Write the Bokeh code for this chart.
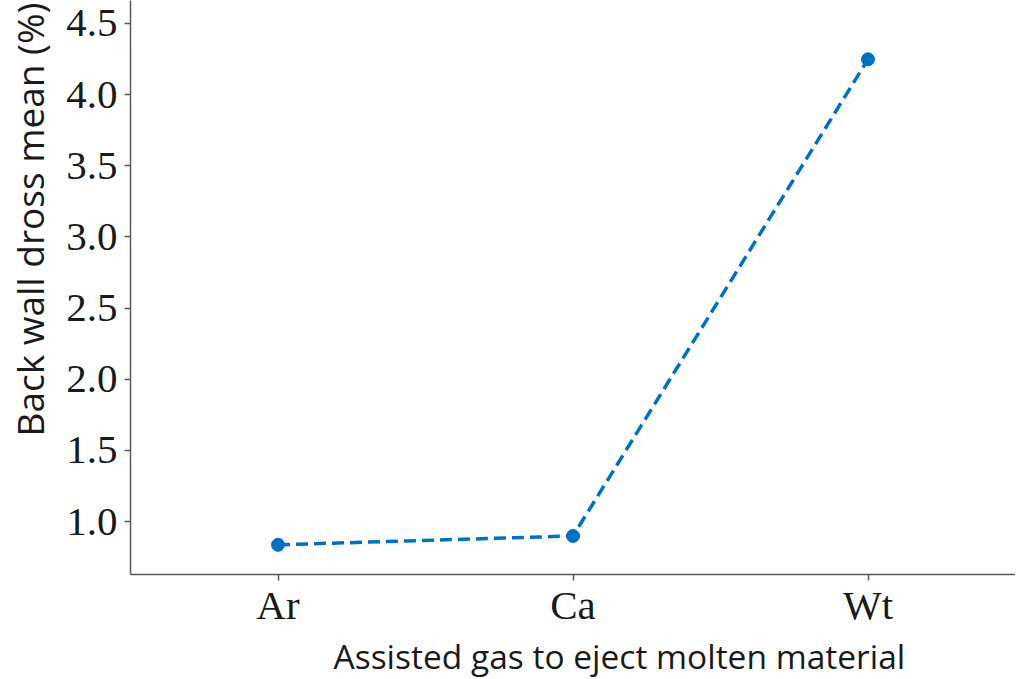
from bokeh.plotting import figure
from bokeh.models import Range1d, FactorRange, SingleIntervalTicker, PrintfTickFormatter, Title
from bokeh.embed import file_html
from bokeh.resources import INLINE

# Data
gases = ["Ar", "Ca", "Wt"]
dross_mean = [0.837, 0.899, 4.248]

x_title = "Assisted gas to eject molten material"
y_title = "Back wall dross mean (%)"

p = figure(
    width=1015, height=678,
    x_range=FactorRange(*gases),
    y_range=Range1d(0.6283, 4.6613),
    output_backend="svg", toolbar_location=None,
    min_border_left=130, min_border_right=0, min_border_top=0, min_border_bottom=103,
)

p.line(gases, dross_mean, line_color="#0070C0", line_width=3.5, line_dash="12 6")
p.scatter(gases, dross_mean, size=13, color="#0070C0")

p.xgrid.visible = False
p.ygrid.visible = False
p.outline_line_color = None

p.yaxis.ticker = SingleIntervalTicker(interval=0.5)
p.yaxis.formatter = PrintfTickFormatter(format="%.1f")
for ax in (p.xaxis[0], p.yaxis[0]):
    ax.axis_line_color = "#595959"
    ax.axis_line_width = 1.5
    ax.major_tick_line_color = "#595959"
    ax.major_tick_line_width = 1.5
    ax.major_tick_out = 6
    ax.major_tick_in = 0
    ax.minor_tick_line_color = None
    ax.major_label_text_font = "Liberation Serif"
    ax.major_label_text_font_size = "41px"
    ax.major_label_text_color = "#1a1a1a"
    ax.axis_label_standoff = 0

p.xaxis.major_label_standoff = 1
p.yaxis.major_label_standoff = 7
# spacer between y tick labels and the y title
p.yaxis.axis_label = " "
p.yaxis.axis_label_text_font_size = "1px"
p.yaxis.axis_label_standoff = 5

p.add_layout(Title(text=x_title, align="left", offset=203, standoff=0,
                   text_font="Open Sans", text_font_size="33.5px",
                   text_font_style="normal", text_color="#1a1a1a"), "below")
p.add_layout(Title(text=y_title, align="left", offset=138, standoff=0,
                   text_font="Open Sans", text_font_size="37px",
                   text_font_style="normal", text_color="#1a1a1a"), "left")

open("out.html", "w").write(file_html(p, INLINE))
